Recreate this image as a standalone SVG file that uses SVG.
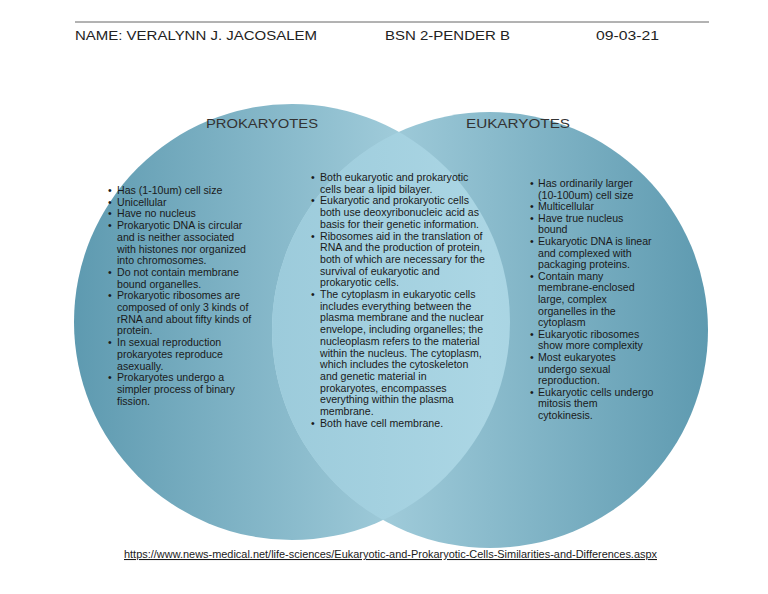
<svg xmlns="http://www.w3.org/2000/svg" width="768" height="594" viewBox="0 0 768 594">
<style>
.h{font-family:"Liberation Sans",Arial,sans-serif;font-size:13px;fill:#222}
.t{font-family:"Liberation Sans",Arial,sans-serif;font-size:10.6px;fill:#1a1a1a}
.ttl{font-family:"Liberation Sans",Arial,sans-serif;font-size:13px;fill:#333}
</style>
<defs>
<linearGradient id="gl" x1="0" y1="0" x2="1" y2="0"><stop offset="0" stop-color="#5e9ab0"/><stop offset="1" stop-color="#b6dce8"/></linearGradient>
<linearGradient id="gr" x1="0" y1="0" x2="1" y2="0"><stop offset="0" stop-color="#b6dce8"/><stop offset="1" stop-color="#5e9ab0"/></linearGradient>
<linearGradient id="go" x1="0" y1="0" x2="1" y2="0"><stop offset="0" stop-color="#9ccbdb"/><stop offset="0.5" stop-color="#abd6e4"/><stop offset="1" stop-color="#9ccbdb"/></linearGradient>
<clipPath id="cl"><circle cx="292" cy="322" r="218"/></clipPath>
</defs>
<rect width="768" height="594" fill="#fff"/>
<line x1="75" y1="22" x2="709" y2="22" stroke="#666" stroke-width="1"/>
<text class="h" x="75" y="40" textLength="242" lengthAdjust="spacingAndGlyphs">NAME: VERALYNN J. JACOSALEM</text>
<text class="h" x="385" y="40" textLength="125" lengthAdjust="spacingAndGlyphs">BSN 2-PENDER B</text>
<text class="h" x="596" y="40" textLength="63" lengthAdjust="spacingAndGlyphs">09-03-21</text>
<g id="left"><circle cx="292" cy="322" r="218" fill="url(#gl)"/></g>
<g id="right"><circle cx="490" cy="330" r="218" fill="url(#gr)"/></g>
<g id="overlap"><circle cx="490" cy="330" r="218" fill="url(#go)" clip-path="url(#cl)" transform=""/></g>
<text class="ttl" x="206" y="128" textLength="112" lengthAdjust="spacingAndGlyphs">PROKARYOTES</text>
<text class="ttl" x="466" y="128" textLength="104" lengthAdjust="spacingAndGlyphs">EUKARYOTES</text>
<g id="prok-text" class="t">
<text x="108" y="194">•</text><text x="117" y="194">Has (1-10um) cell size</text>
<text x="108" y="205.7">•</text><text x="117" y="205.7">Unicellular</text>
<text x="108" y="217.4">•</text><text x="117" y="217.4">Have no nucleus</text>
<text x="108" y="229.1">•</text><text x="117" y="229.1">Prokaryotic DNA is circular</text>
<text x="117" y="240.8">and is neither associated</text>
<text x="117" y="252.5">with histones nor organized</text>
<text x="117" y="264.2">into chromosomes.</text>
<text x="108" y="275.9">•</text><text x="117" y="275.9">Do not contain membrane</text>
<text x="117" y="287.6">bound organelles.</text>
<text x="108" y="299.3">•</text><text x="117" y="299.3">Prokaryotic ribosomes are</text>
<text x="117" y="311">composed of only 3 kinds of</text>
<text x="117" y="322.7">rRNA and about fifty kinds of</text>
<text x="117" y="334.4">protein.</text>
<text x="108" y="346.1">•</text><text x="117" y="346.1">In sexual reproduction</text>
<text x="117" y="357.8">prokaryotes reproduce</text>
<text x="117" y="369.5">asexually.</text>
<text x="108" y="381.2">•</text><text x="117" y="381.2">Prokaryotes undergo a</text>
<text x="117" y="392.9">simpler process of binary</text>
<text x="117" y="404.6">fission.</text>
</g>
<g id="both-text" class="t">
<text x="311" y="181">•</text><text x="320" y="181">Both eukaryotic and prokaryotic</text>
<text x="320" y="192.7">cells bear a lipid bilayer.</text>
<text x="311" y="204.4">•</text><text x="320" y="204.4">Eukaryotic and prokaryotic cells</text>
<text x="320" y="216.1">both use deoxyribonucleic acid as</text>
<text x="320" y="227.8">basis for their genetic information.</text>
<text x="311" y="239.5">•</text><text x="320" y="239.5">Ribosomes aid in the translation of</text>
<text x="320" y="251.2">RNA and the production of protein,</text>
<text x="320" y="262.9">both of which are necessary for the</text>
<text x="320" y="274.6">survival of eukaryotic and</text>
<text x="320" y="286.3">prokaryotic cells.</text>
<text x="311" y="298">•</text><text x="320" y="298">The cytoplasm in eukaryotic cells</text>
<text x="320" y="309.7">includes everything between the</text>
<text x="320" y="321.4">plasma membrane and the nuclear</text>
<text x="320" y="333.1">envelope, including organelles; the</text>
<text x="320" y="344.8">nucleoplasm refers to the material</text>
<text x="320" y="356.5">within the nucleus. The cytoplasm,</text>
<text x="320" y="368.2">which includes the cytoskeleton</text>
<text x="320" y="379.9">and genetic material in</text>
<text x="320" y="391.6">prokaryotes, encompasses</text>
<text x="320" y="403.3">everything within the plasma</text>
<text x="320" y="415">membrane.</text>
<text x="311" y="426.7">•</text><text x="320" y="426.7">Both have cell membrane.</text>
</g>
<g id="euk-text" class="t">
<text x="530" y="187">•</text><text x="538" y="187">Has ordinarily larger</text>
<text x="538" y="198.6">(10-100um) cell size</text>
<text x="530" y="210.2">•</text><text x="538" y="210.2">Multicellular</text>
<text x="530" y="221.8">•</text><text x="538" y="221.8">Have true nucleus</text>
<text x="538" y="233.4">bound</text>
<text x="530" y="245">•</text><text x="538" y="245">Eukaryotic DNA is linear</text>
<text x="538" y="256.6">and complexed with</text>
<text x="538" y="268.2">packaging proteins.</text>
<text x="530" y="279.8">•</text><text x="538" y="279.8">Contain many</text>
<text x="538" y="291.4">membrane-enclosed</text>
<text x="538" y="303">large, complex</text>
<text x="538" y="314.6">organelles in the</text>
<text x="538" y="326.2">cytoplasm</text>
<text x="530" y="337.8">•</text><text x="538" y="337.8">Eukaryotic ribosomes</text>
<text x="538" y="349.4">show more complexity</text>
<text x="530" y="361">•</text><text x="538" y="361">Most eukaryotes</text>
<text x="538" y="372.6">undergo sexual</text>
<text x="538" y="384.2">reproduction.</text>
<text x="530" y="395.8">•</text><text x="538" y="395.8">Eukaryotic cells undergo</text>
<text x="538" y="407.4">mitosis them</text>
<text x="538" y="419">cytokinesis.</text>
</g>
<text class="t" x="124" y="558" font-size="10.5" text-decoration="underline" textLength="533" lengthAdjust="spacingAndGlyphs">https://www.news-medical.net/life-sciences/Eukaryotic-and-Prokaryotic-Cells-Similarities-and-Differences.aspx</text>
</svg>
